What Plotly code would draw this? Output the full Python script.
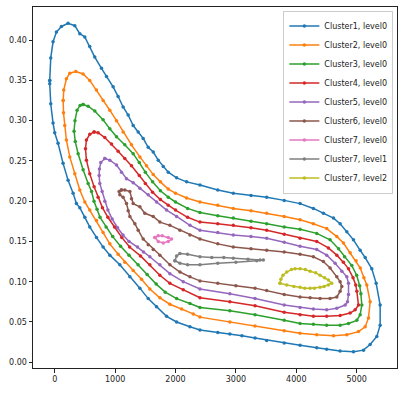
import plotly.graph_objects as go

# ---- data (x, y) vertices of each closed contour ----
cluster1_level0 = [(-83,0.350),(-66,0.378),(-28,0.398),(28,0.410),(111,0.417),(221,0.421),(332,0.418),(415,0.408),(498,0.404),(580,0.392),(663,0.379),(774,0.365),(857,0.355),(967,0.342),(1050,0.330),(1133,0.317),(1216,0.307),(1299,0.294),(1382,0.286),(1465,0.278),(1548,0.267),(1631,0.261),(1714,0.251),(1797,0.243),(1880,0.236),(2018,0.229),(2184,0.224),(2405,0.220),(2700,0.214),(2957,0.210),(3250,0.207),(3510,0.205),(3800,0.201),(4063,0.197),(4283,0.191),(4449,0.185),(4616,0.179),(4726,0.172),(4837,0.162),(4947,0.152),(5058,0.139),(5141,0.130),(5251,0.116),(5323,0.098),(5389,0.071),(5389,0.046),(5334,0.032),(5223,0.022),(5113,0.015),(4947,0.013),(4726,0.014),(4504,0.016),(4339,0.018),(4063,0.021),(3800,0.024),(3510,0.027),(3317,0.030),(3100,0.033),(2900,0.035),(2700,0.037),(2405,0.040),(2239,0.044),(2018,0.050),(1852,0.057),(1686,0.069),(1548,0.079),(1410,0.092),(1244,0.106),(1078,0.121),(912,0.133),(801,0.143),(691,0.155),(580,0.168),(498,0.180),(415,0.192),(359,0.197),(304,0.210),(221,0.226),(138,0.247),(55,0.272),(0,0.285),(-28,0.297),(-66,0.321),(-83,0.346),(-83,0.350)]

cluster2_level0 = [(140,0.325),(149,0.338),(193,0.352),(249,0.359),(349,0.361),(470,0.358),(580,0.350),(691,0.338),(801,0.325),(912,0.313),(1023,0.300),(1133,0.286),(1271,0.270),(1410,0.255),(1520,0.244),(1631,0.233),(1750,0.224),(1880,0.215),(2000,0.210),(2184,0.204),(2405,0.199),(2700,0.195),(2957,0.191),(3250,0.188),(3510,0.185),(3800,0.181),(4063,0.177),(4283,0.172),(4504,0.166),(4671,0.156),(4781,0.148),(4892,0.136),(4990,0.126),(5060,0.117),(5120,0.105),(5168,0.096),(5223,0.075),(5196,0.055),(5141,0.044),(5030,0.038),(4837,0.034),(4616,0.033),(4339,0.034),(4063,0.036),(3800,0.039),(3317,0.045),(2900,0.050),(2405,0.056),(2294,0.060),(2101,0.066),(1907,0.072),(1741,0.080),(1575,0.091),(1437,0.103),(1299,0.114),(1160,0.124),(1050,0.134),(912,0.147),(801,0.161),(691,0.176),(580,0.189),(498,0.199),(415,0.214),(332,0.234),(249,0.255),(193,0.276),(166,0.294),(145,0.310),(140,0.325)]

cluster3_level0 = [(470,0.320),(553,0.318),(664,0.312),(801,0.301),(912,0.290),(1023,0.280),(1160,0.270),(1299,0.259),(1400,0.248),(1500,0.236),(1620,0.224),(1750,0.213),(1880,0.205),(2000,0.199),(2200,0.191),(2405,0.186),(2700,0.182),(2957,0.179),(3250,0.175),(3510,0.172),(3800,0.168),(4063,0.165),(4339,0.160),(4560,0.152),(4700,0.141),(4800,0.131),(4920,0.120),(5000,0.108),(5050,0.095),(5070,0.085),(5085,0.071),(5058,0.059),(5003,0.052),(4865,0.048),(4726,0.046),(4504,0.046),(4283,0.047),(4063,0.048),(3800,0.052),(3317,0.059),(2900,0.064),(2405,0.068),(2239,0.073),(2018,0.079),(1830,0.087),(1680,0.097),(1530,0.109),(1380,0.121),(1230,0.133),(1090,0.144),(960,0.156),(850,0.168),(750,0.180),(700,0.190),(650,0.200),(610,0.212),(553,0.222),(470,0.239),(387,0.259),(340,0.274),(320,0.287),(335,0.300),(370,0.313),(420,0.319),(470,0.320)]

cluster4_level0 = [(652,0.286),(718,0.285),(829,0.279),(940,0.271),(1050,0.262),(1160,0.253),(1271,0.244),(1400,0.232),(1500,0.222),(1620,0.211),(1750,0.202),(1880,0.195),(2000,0.189),(2200,0.180),(2405,0.174),(2700,0.172),(2957,0.170),(3250,0.167),(3510,0.164),(3800,0.159),(4063,0.154),(4339,0.150),(4532,0.142),(4671,0.133),(4781,0.124),(4865,0.116),(4940,0.105),(4985,0.096),(5003,0.088),(5030,0.071),(4975,0.065),(4892,0.061),(4726,0.058),(4504,0.057),(4283,0.057),(4063,0.059),(3800,0.062),(3317,0.070),(2900,0.075),(2405,0.080),(2128,0.090),(1907,0.098),(1741,0.108),(1575,0.121),(1420,0.132),(1240,0.143),(1110,0.155),(990,0.168),(880,0.180),(790,0.192),(718,0.205),(652,0.218),(580,0.234),(525,0.251),(509,0.265),(525,0.276),(580,0.283),(652,0.286)]

cluster5_level0 = [(829,0.253),(912,0.251),(1023,0.245),(1105,0.236),(1188,0.228),(1299,0.223),(1410,0.216),(1548,0.208),(1686,0.199),(1852,0.189),(2018,0.181),(2239,0.170),(2405,0.164),(2700,0.161),(2957,0.158),(3250,0.156),(3510,0.154),(3800,0.149),(4063,0.144),(4339,0.140),(4504,0.133),(4643,0.123),(4754,0.113),(4837,0.106),(4865,0.098),(4865,0.084),(4848,0.075),(4810,0.071),(4671,0.067),(4504,0.065),(4283,0.066),(4063,0.068),(3800,0.071),(3317,0.079),(2900,0.085),(2405,0.091),(2128,0.100),(1907,0.110),(1741,0.121),(1575,0.131),(1470,0.137),(1370,0.143),(1230,0.150),(1130,0.158),(1040,0.167),(950,0.178),(880,0.189),(829,0.200),(785,0.212),(746,0.222),(735,0.232),(740,0.240),(762,0.248),(829,0.253)]

cluster6_level0 = [(1105,0.214),(1160,0.214),(1244,0.212),(1271,0.203),(1299,0.197),(1410,0.193),(1492,0.185),(1631,0.181),(1741,0.174),(1907,0.170),(2073,0.164),(2239,0.158),(2405,0.153),(2700,0.147),(2957,0.143),(3250,0.141),(3510,0.139),(3800,0.137),(4063,0.134),(4283,0.131),(4449,0.125),(4560,0.117),(4671,0.106),(4726,0.100),(4754,0.094),(4726,0.088),(4671,0.081),(4560,0.079),(4394,0.079),(4229,0.080),(4063,0.081),(3800,0.084),(3510,0.089),(3317,0.092),(3000,0.095),(2700,0.098),(2405,0.101),(2239,0.106),(2073,0.112),(1907,0.121),(1741,0.133),(1631,0.140),(1548,0.146),(1465,0.153),(1382,0.164),(1327,0.172),(1244,0.181),(1216,0.188),(1188,0.197),(1133,0.205),(1078,0.208),(1066,0.212),(1105,0.214)]

cluster7_level0 = [(1658,0.155),(1714,0.157),(1780,0.157),(1880,0.155),(1935,0.153),(1880,0.150),(1797,0.148),(1714,0.150),(1658,0.155)]

cluster7_level1 = [(1990,0.126),(2018,0.132),(2073,0.135),(2200,0.134),(2405,0.131),(2600,0.130),(2800,0.130),(2957,0.129),(3200,0.128),(3400,0.127),(3455,0.127),(3345,0.126),(3000,0.124),(2700,0.123),(2405,0.121),(2200,0.121),(2073,0.123),(1990,0.126)]

cluster7_level2 = [(3731,0.098),(3745,0.103),(3780,0.108),(3842,0.112),(3920,0.115),(3980,0.116),(4063,0.116),(4150,0.115),(4229,0.113),(4320,0.111),(4394,0.108),(4470,0.105),(4532,0.102),(4587,0.098),(4532,0.096),(4460,0.094),(4394,0.093),(4300,0.092),(4229,0.092),(4140,0.092),(4063,0.093),(3960,0.094),(3842,0.096),(3731,0.098)]

series_names = ["Cluster1, level0", "Cluster2, level0", "Cluster3, level0",
                "Cluster4, level0", "Cluster5, level0", "Cluster6, level0",
                "Cluster7, level0", "Cluster7, level1", "Cluster7, level2"]
series_data = [cluster1_level0, cluster2_level0, cluster3_level0, cluster4_level0,
               cluster5_level0, cluster6_level0, cluster7_level0, cluster7_level1,
               cluster7_level2]
colors = ["#1f77b4", "#ff7f0e", "#2ca02c", "#d62728", "#9467bd",
          "#8c564b", "#e377c2", "#7f7f7f", "#bcbd22"]

x_ticks = [0, 1000, 2000, 3000, 4000, 5000]
y_ticks = [0.00, 0.05, 0.10, 0.15, 0.20, 0.25, 0.30, 0.35, 0.40]

fig = go.Figure()
for name, pts, col in zip(series_names, series_data, colors):
    xs = [p[0] for p in pts]
    ys = [p[1] for p in pts]
    fig.add_trace(go.Scatter(
        x=xs, y=ys, name=name, mode="lines+markers",
        line=dict(color=col, width=1.5),
        marker=dict(color=col, size=3.5, symbol="circle"),
    ))

axis_common = dict(
    showline=True, mirror=True, linecolor="#222222", linewidth=1,
    ticks="outside", ticklen=3.5, tickwidth=0.8, tickcolor="#222222",
    showgrid=False, zeroline=False,
    tickfont=dict(family="DejaVu Sans", size=8, color="#222222"),
)

fig.update_layout(
    width=400, height=394,
    margin=dict(l=33, r=3, t=7, b=26),
    paper_bgcolor="white", plot_bgcolor="white",
    font=dict(family="DejaVu Sans", size=8, color="#222222"),
    xaxis=dict(range=[-360, 5668], tickvals=x_ticks,
               ticktext=[str(v) for v in x_ticks], **axis_common),
    yaxis=dict(range=[-0.0072, 0.4412], tickvals=y_ticks,
               ticktext=[f"{v:.2f}" for v in y_ticks], **axis_common),
    legend=dict(x=0.99, y=0.99, xanchor="right", yanchor="top",
                bgcolor="rgba(255,255,255,0.8)", bordercolor="#cccccc",
                borderwidth=1, font=dict(size=8, family="DejaVu Sans"),
                itemwidth=30, tracegroupgap=0),
    showlegend=True,
)

fig.write_html("out.html",
               config={"displayModeBar": False},
               post_script="document.body.style.margin='0';document.body.style.overflow='hidden';")
